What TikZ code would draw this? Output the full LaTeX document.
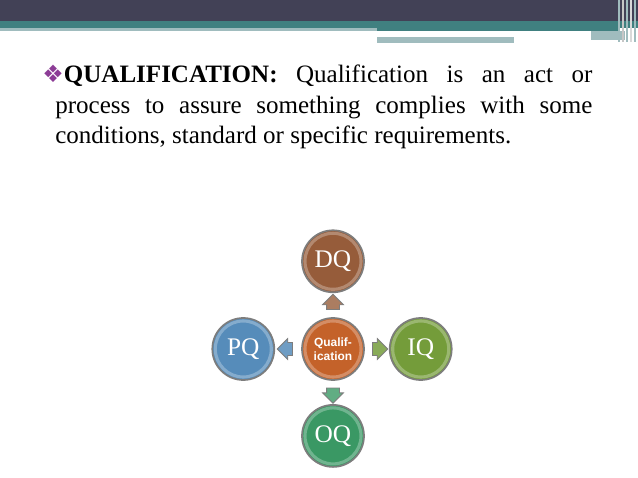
\documentclass[tikz,border=0pt]{standalone}
\usepackage{fontspec}
\setmainfont{Liberation Serif}
\setsansfont{Liberation Sans}
\newfontfamily\dejavu{DejaVu Sans}
\usetikzlibrary{positioning,shapes.arrows}
\definecolor{hdark}{RGB}{66,65,86}
\definecolor{hteal}{RGB}{64,128,128}
\definecolor{hlight}{RGB}{160,188,190}
\definecolor{bulletc}{RGB}{140,60,150}
\definecolor{rim}{RGB}{125,125,125}
\definecolor{cq}{RGB}{196,98,42}
\definecolor{cdq}{RGB}{150,92,58}
\definecolor{cpq}{RGB}{86,140,186}
\definecolor{ciq}{RGB}{116,156,58}
\definecolor{coq}{RGB}{58,152,100}
\tikzset{
  ball/.style={circle, draw=rim, line width=1.2pt, minimum size=1.55cm, inner sep=0pt,
               text=white, font=\fontsize{18}{20}\selectfont,
               path picture={\draw[white, opacity=.28, line width=2.2pt]
                 (path picture bounding box.center) circle (0.70cm);}},
  hub/.style={ball, fill=cq, align=center, font=\sffamily\bfseries\fontsize{8.5}{10}\selectfont},
  tip/.style={single arrow, draw=rim, line width=0.6pt, minimum height=0.38cm,
              single arrow head extend=0.1cm, inner xsep=0pt, inner ysep=0.15cm},
}

\begin{document}
\begin{tikzpicture}[x=0.025cm, y=-0.025cm, node distance=0.6cm and 0.65cm]
  \useasboundingbox (0,0) rectangle (638,478);
  % header bands
  \fill[hdark] (0,0) rectangle (638,21);
  \fill[hteal] (0,21) rectangle (638,28);
  \fill[hlight] (0,28) rectangle (377,31);
  \fill[hteal] (377,28) rectangle (618,31);
  \fill[hlight] (591,31) rectangle (625,40);
  \fill[hlight] (377,36.7) rectangle (514,42.7);
  \foreach \x/\c in {618/hlight, 622/gray!45, 626/hlight, 630/gray!30, 634/hlight}
    \fill[\c] (\x,0) rectangle ++(2,42);

  \node[anchor=north west, inner sep=0pt, text width=13.425cm, align=justify,
        font=\fontsize{17.8}{21.6}\selectfont] (def) at (55,65)
    {\hspace*{-0.32cm}{\dejavu\color{bulletc}\fontsize{17}{17}\selectfont ❖}\textbf{QUALIFICATION:}
     Qualification is an act or\linebreak process to assure something complies with some\linebreak
     conditions, standard or specific requirements.};

  \node[hub] (q) at (333,349) {Qualif-\\ication};
  \node[ball, fill=cdq, above=of q] (dq) {DQ};
  \node[ball, fill=cpq, left=of q] (pq) {PQ};
  \node[ball, fill=ciq, right=0.6cm of q] (iq) {IQ};
  \node[ball, fill=coq, below=0.58cm of q] (oq) {OQ};

  \path (q) -- (dq) node[midway, tip, fill=cdq!80!white, rotate=90] {};
  \path (q) -- (pq) node[midway, tip, fill=cpq!85!white, rotate=180] {};
  \path (q) -- (iq) node[midway, tip, fill=ciq!85!white] {};
  \path (q) -- (oq) node[midway, tip, fill=coq!80!white, rotate=270] {};
\end{tikzpicture}
\end{document}
